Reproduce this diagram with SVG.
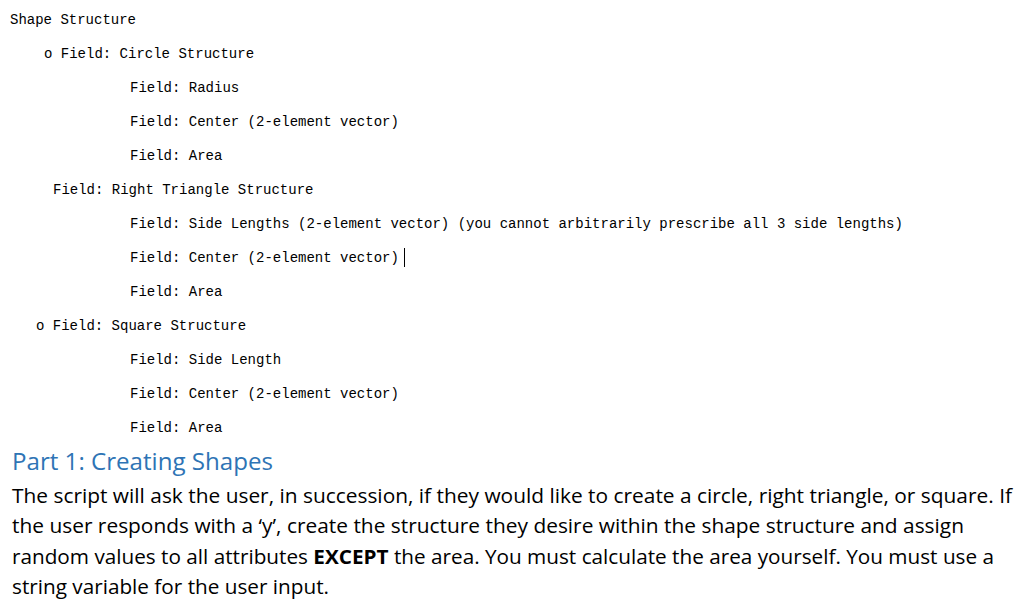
<svg xmlns="http://www.w3.org/2000/svg" width="1024" height="606" viewBox="0 0 1024 606">
<style>
.m{font-family:"Liberation Mono","DejaVu Sans Mono",monospace;font-size:14px;fill:#000}
.b{font-family:"Open Sans","Liberation Sans",sans-serif;font-size:20px;fill:#000}
.h{font-family:"Open Sans","Liberation Sans",sans-serif;font-size:24px;fill:#2E74B5}
</style>
<rect width="1024" height="606" fill="#fff"/>
<text class="m" x="10" y="24">Shape Structure</text>
<text class="m" x="44" y="58">o Field: Circle Structure</text>
<text class="m" x="130" y="92">Field: Radius</text>
<text class="m" x="130" y="126">Field: Center (2-element vector)</text>
<text class="m" x="130" y="160">Field: Area</text>
<text class="m" x="53" y="194">Field: Right Triangle Structure</text>
<text class="m" x="130" y="228">Field: Side Lengths (2-element vector) (you cannot arbitrarily prescribe all 3 side lengths)</text>
<text class="m" x="130" y="262">Field: Center (2-element vector)</text>
<line x1="404.5" y1="248" x2="404.5" y2="267" stroke="#000" stroke-width="1"/>
<text class="m" x="130" y="296">Field: Area</text>
<text class="m" x="36" y="330">o Field: Square Structure</text>
<text class="m" x="130" y="364">Field: Side Length</text>
<text class="m" x="130" y="398">Field: Center (2-element vector)</text>
<text class="m" x="130" y="432">Field: Area</text>
<text class="h" x="12" y="470" textLength="261" lengthAdjust="spacingAndGlyphs">Part 1: Creating Shapes</text>
<text class="b" x="12" y="503" textLength="1000" lengthAdjust="spacingAndGlyphs">The script will ask the user, in succession, if they would like to create a circle, right triangle, or square. If</text>
<text class="b" x="12" y="533" textLength="952" lengthAdjust="spacingAndGlyphs">the user responds with a ‘y’, create the structure they desire within the shape structure and assign</text>
<text class="b" x="12" y="564" textLength="982" lengthAdjust="spacingAndGlyphs">random values to all attributes <tspan font-weight="bold">EXCEPT</tspan> the area. You must calculate the area yourself. You must use a</text>
<text class="b" x="12" y="594" textLength="317" lengthAdjust="spacingAndGlyphs">string variable for the user input.</text>
</svg>
